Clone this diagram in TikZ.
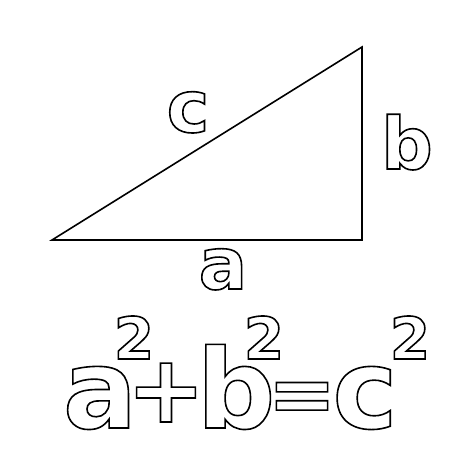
\documentclass[tikz,border=0pt]{standalone}
\usepackage{fontspec}
\setmainfont{DejaVu Sans}
\newcommand{\outl}[1]{\special{pdf:literal direct 1 Tr 1.6 w}#1\special{pdf:literal direct 0 Tr 1 w}}
\tikzset{
  lbl/.style={inner sep=0pt, anchor=base, font=\bfseries\fontsize{72}{72}\selectfont},
  big/.style={inner sep=0pt, anchor=base, text height=62pt, text depth=0pt, font=\bfseries\fontsize{110}{110}\selectfont},
  sup/.style={inner sep=0pt, anchor=base, text height=42pt, text depth=0pt, font=\bfseries\fontsize{58}{58}\selectfont},
  edge/.style={line width=1.6pt, line join=miter}
}
\begin{document}
\begin{tikzpicture}[x=1pt,y=-1pt]
\useasboundingbox (0,0) rectangle (474,474);
\coordinate (A) at (52,240);
\coordinate (B) at (362,240);
\coordinate (C) at (362,47);
\draw[edge] (A) -- (B) -- (C) -- cycle;
\node[lbl] (lc) at (188,132) {\outl{c}};
\node[lbl] (lb) at (407,169) {\outl{b}};
\node[lbl] (la) at (223,289) {\outl{a}};
\node[big] (fa) at (100,428) {\outl{a}};
\node[big, font=\bfseries\fontsize{94}{94}\selectfont, text height=52pt] (fp) at (166,422) {\outl{+}};
\node[big] (fb) at (236,428) {\outl{b}};
\node[big, font=\bfseries\fontsize{82}{82}\selectfont, text height=44pt] (fe) at (302,422) {\outl{=}};
\node[big] (fc) at (365,428) {\outl{c}};
\node[sup] (s1) at (134,359) {\outl{2}};
\node[sup] (s2) at (264,359) {\outl{2}};
\node[sup] (s3) at (410,359) {\outl{2}};
\end{tikzpicture}
\end{document}
